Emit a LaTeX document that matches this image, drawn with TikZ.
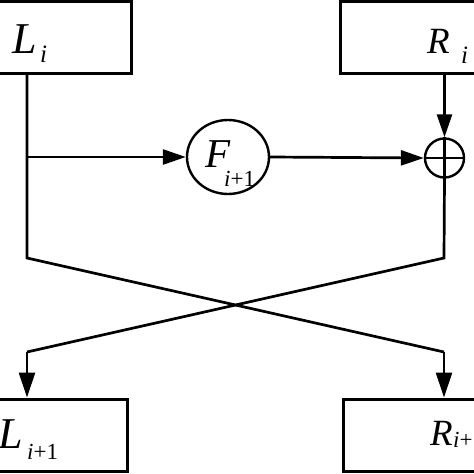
\documentclass[tikz,border=0pt]{standalone}
\usepackage{fontspec}
\setmainfont{Liberation Serif}
\usetikzlibrary{arrows.meta,shapes.geometric}
\begin{document}
\begin{tikzpicture}[x=1pt,y=-1pt,
  box/.style={draw,line width=3pt,rectangle,inner sep=0pt},
  conn/.style={line width=2.7pt},
  arr/.style={line width=2.7pt,-{Triangle[length=23pt,width=15pt]}},
  arrbig/.style={line width=2.7pt,-{Triangle[length=25pt,width=16pt]}},
  lab/.style={anchor=base west,inner sep=0pt,font=\itshape},
  sub/.style={anchor=base west,inner sep=0pt}]
\useasboundingbox (0,0) rectangle (474,474);
\clip (0,0) rectangle (474,474);
% boxes
\node[box,minimum width=139pt,minimum height=72pt] (Li) at (62,37) {};
\node[box,minimum width=140pt,minimum height=72pt] (Ri) at (410,37) {};
\node[box,minimum width=134pt,minimum height=72pt] (Lo) at (60,435) {};
\node[box,minimum width=137pt,minimum height=72pt] (Ro) at (411.5,435) {};
% labels
\node[lab,font=\fontsize{44}{44}\selectfont\itshape] (LiT) at (12,53) {L};
\node[sub,font=\fontsize{25}{25}\selectfont\itshape] (LiS) at (40,62) {i};
\node[lab,font=\fontsize{37}{37}\selectfont\itshape] (RiT) at (427,53) {R};
\node[sub,font=\fontsize{25}{25}\selectfont\itshape] (RiS) at (461,63) {i};
\node[lab,font=\fontsize{44}{44}\selectfont\itshape] (LoT) at (-2,448) {L};
\node[sub,font=\fontsize{23}{23}\selectfont] (LoS) at (27,459) {\textit{i}+1};
\node[lab,font=\fontsize{37}{37}\selectfont\itshape] (RoT) at (430,445) {R};
\node[sub,font=\fontsize{23}{23}\selectfont] (RoS) at (453,447) {\textit{i}+1};
% F function
\node[draw,ellipse,line width=2.4pt,minimum width=82pt,minimum height=74pt,inner sep=0pt] (F) at (228,157) {};
\node[lab,font=\fontsize{41}{41}\selectfont\itshape] (FT) at (205,167) {F};
\node[sub,font=\fontsize{23}{23}\selectfont] (FS) at (224,186) {\textit{i}+1};
% XOR
\node[draw,circle,line width=2.4pt,minimum size=39pt,inner sep=0pt] (X) at (444.5,158) {};
\draw[line width=2.4pt] (X.north) -- (X.south) (X.west) -- (X.east);
% coordinates
\coordinate (a0) at (27,73);
\coordinate (br) at (27,157);
\coordinate (a1) at (27,258);
\coordinate (a2) at (444,352);
\coordinate (b1) at (444,258);
\coordinate (b2) at (27,352);
\coordinate (r0) at (444.5,73);
% connectors
\draw[conn] (a0) -- (a1) -- (a2);
\draw[arrbig] (a2) -- (a2 |- Ro.north);
\draw[arr] (br) -- (F.west);
\draw[arr] (F.east) -- (X.west);
\draw[arr] (r0) -- (X.north);
\draw[conn] (X.south) -- (b1) -- (b2);
\draw[arrbig] (b2) -- (b2 |- Lo.north);
\end{tikzpicture}
\end{document}
